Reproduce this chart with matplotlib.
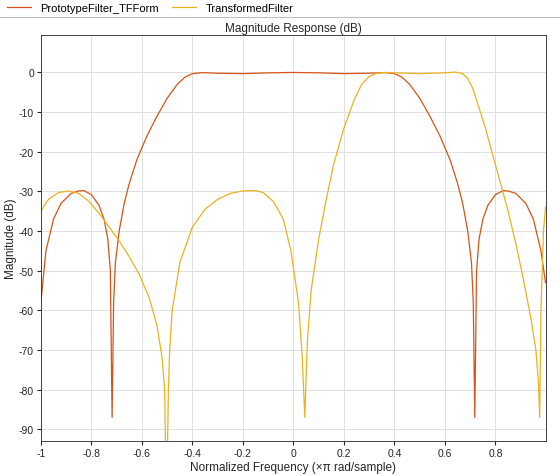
import matplotlib.pyplot as plt

plt.rcParams['font.family'] = ['Liberation Sans', 'DejaVu Sans']
plt.rcParams['axes.unicode_minus'] = False

proto_x = [-1.0, -0.98, -0.95, -0.92, -0.88, -0.85, -0.83, -0.80, -0.77, -0.75, -0.735, -0.725, -0.718,
           -0.712, -0.705, -0.69, -0.67, -0.65, -0.62, -0.58, -0.54, -0.50, -0.46, -0.43, -0.40, -0.36,
           -0.30, -0.20, -0.10, 0.0, 0.10, 0.20, 0.30, 0.36, 0.40, 0.43, 0.46, 0.50, 0.54, 0.58, 0.62,
           0.65, 0.67, 0.69, 0.705, 0.712, 0.718, 0.725, 0.735, 0.75, 0.77, 0.80, 0.83, 0.85, 0.88, 0.92,
           0.95, 0.98, 0.998]
proto_y = [-58, -45, -37, -33, -30.5, -29.9, -29.8, -30.8, -33.5, -37, -42, -50, -87,
           -58, -48, -40, -33, -28, -22, -16, -11, -6.5, -3, -1.2, -0.3, -0.05,
           -0.2, -0.3, -0.1, 0, -0.1, -0.3, -0.2, -0.05, -0.3, -1.2, -3, -6.5, -11, -16, -22,
           -28, -33, -40, -48, -58, -87, -50, -42, -37, -33.5, -30.8, -29.8, -29.9, -30.5, -33,
           -37, -45, -53]

trans_x = [-1.0, -0.97, -0.93, -0.89, -0.85, -0.81, -0.77, -0.73, -0.69, -0.65, -0.61, -0.57, -0.54,
           -0.52, -0.51, -0.505, -0.50, -0.495, -0.49, -0.48, -0.45, -0.40, -0.35, -0.30, -0.25, -0.20,
           -0.15, -0.12, -0.08, -0.04, -0.01, 0.02, 0.035, 0.045, 0.055, 0.07, 0.10, 0.13, 0.16, 0.20,
           0.24, 0.27, 0.30, 0.33, 0.36, 0.40, 0.45, 0.50, 0.55, 0.60, 0.64, 0.67, 0.69, 0.71, 0.73,
           0.76, 0.79, 0.82, 0.85, 0.88, 0.91, 0.94, 0.96, 0.97, 0.975, 0.98, 0.99, 0.998]
trans_y = [-35, -32, -30.3, -29.9, -30.5, -32.5, -35.5, -39, -42.5, -46.5, -51, -57, -64,
           -72, -80, -100, -100, -80, -70, -60, -48, -39, -34.5, -32, -30.5, -29.9,
           -29.8, -30.3, -32.5, -37, -45, -58, -72, -87, -68, -55, -42, -32, -23, -14,
           -7, -3, -1, -0.2, 0, -0.1, -0.2, -0.3, -0.2, -0.1, 0.1, -0.3, -1.5, -4, -8,
           -14, -21, -28, -35, -43, -52, -62, -70, -78, -87, -60, -40, -34]

fig = plt.figure(figsize=(5.6, 4.77), dpi=100)
ax = fig.add_axes([0.073, 0.073, 0.902, 0.852])
ax.plot(proto_x, proto_y, color='#D95319', lw=0.9, label='PrototypeFilter_TFForm')
ax.plot(trans_x, trans_y, color='#EDB120', lw=0.9, label='TransformedFilter')
ax.set_xlim(-1, 1)
ax.set_ylim(-93, 9.5)
ax.set_xticks([-1, -0.8, -0.6, -0.4, -0.2, 0, 0.2, 0.4, 0.6, 0.8])
ax.set_xticklabels(['-1', '-0.8', '-0.6', '-0.4', '-0.2', '0', '0.2', '0.4', '0.6', '0.8'])
ax.set_yticks(range(-90, 1, 10))
ax.grid(True, color='#e0e0e0', lw=0.7)
ax.tick_params(labelsize=7.5, length=3, pad=2, color='#262626', labelcolor='#262626')
for s in ax.spines.values():
    s.set_color('#262626')
    s.set_linewidth(0.6)
ax.set_title('Magnitude Response (dB)', fontsize=8.5, color='#262626', pad=3)
ax.set_xlabel('Normalized Frequency (×π rad/sample)', fontsize=8.5, color='#262626', labelpad=2)
ax.set_ylabel('Magnitude (dB)', fontsize=8.5, color='#262626', labelpad=1)

fig.legend(loc='upper left', bbox_to_anchor=(0.0, 1.005), ncol=2, frameon=False, fontsize=8,
           handlelength=2.2, columnspacing=1.2, borderaxespad=0.2)
fig.add_artist(plt.Line2D([0, 1], [0.962, 0.962], color='#bfbfbf', lw=0.8))
fig.savefig('out.png', dpi=100)
